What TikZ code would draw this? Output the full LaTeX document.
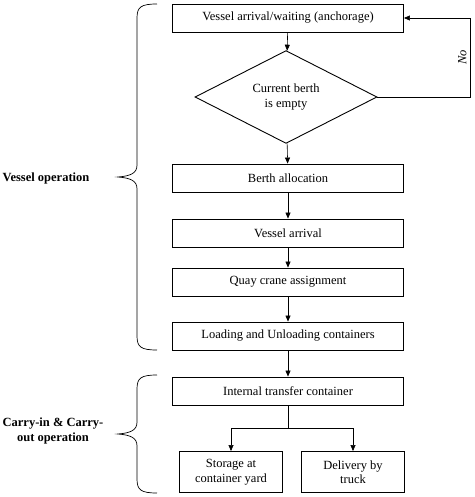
\documentclass[tikz,border=0pt]{standalone}
\usepackage{fontspec}
\setmainfont{Liberation Serif}
\usetikzlibrary{shapes.geometric,arrows.meta}

% curly brace on the left, from top y to bottom y
\newcommand{\groupbrace}[2]{%
    \draw[line width=0.7pt] (157,#1) .. controls (141,#1) and (137,{#1+3}) .. (137,{#1+14})
        -- (137,{(#1+#2)/2-12}) .. controls (137,{(#1+#2)/2-4}) and (131,{(#1+#2)/2-1}) .. (118,{(#1+#2)/2})
        .. controls (131,{(#1+#2)/2+1}) and (137,{(#1+#2)/2+4}) .. (137,{(#1+#2)/2+12})
        -- (137,{#2-14}) .. controls (137,{#2-3}) and (141,#2) .. (157,#2);}

\begin{document}
\begin{tikzpicture}[x=1pt,y=-1pt,
    every node/.style={font=\fontsize{12.5}{14.5}\selectfont},
    box/.style={draw,line width=0.9pt,minimum width=231pt,minimum height=28pt,inner sep=2pt},
    smallbox/.style={draw,line width=0.9pt,minimum width=103pt,minimum height=41pt,align=center,inner sep=2pt},
    decision/.style={draw,diamond,line width=0.9pt,minimum width=182pt,minimum height=89pt,inner sep=0pt,align=center},
    arrow/.style={-{Triangle[length=6pt,width=5pt]},line width=0.6pt},
    grouplabel/.style={font=\fontsize{12.5}{14.5}\selectfont\bfseries,align=center}]
    \useasboundingbox (0,0) rectangle (474,497);

    % --- Vessel operation ---
    \node[box] (arrive) at (288,18) {Vessel arrival/waiting (anchorage)};
    \node[decision] (empty) at (286,97) {Current berth\\is empty};
    \node[box] (alloc) at (288,178) {Berth allocation};
    \node[box] (varr) at (288,233) {Vessel arrival};
    \node[box] (quay) at (288,282) {Quay crane assignment};
    \node[box] (load) at (288,336) {Loading and Unloading containers};

    % --- Carry-in & Carry-out operation ---
    \node[box] (transfer) at (288,391) {Internal transfer container};
    \node[smallbox] (storage) at (231,472) {Storage at\\container yard};
    \node[smallbox] (truck) at (353,472) {Delivery by\\truck};

    % Connectors
    \draw[arrow] (arrive) -- (empty);
    \draw[arrow] (empty) -- (alloc);
    \draw[arrow] (alloc) -- (varr);
    \draw[arrow] (varr) -- (quay);
    \draw[arrow] (quay) -- (load);
    \draw[arrow] (load) -- (transfer);

    % "No" loop back to the anchorage
    \coordinate (loopc) at (470,0);
    \draw[arrow] (empty.east) -- (loopc |- empty.east)
        -- node[above,rotate=90,font=\fontsize{12.5}{14.5}\selectfont\itshape] {No} (loopc |- arrive.east)
        -- (arrive.east);

    % Split to yard and truck
    \coordinate (split) at (288,428);
    \draw[line width=0.6pt] (transfer.south) -- (split);
    \draw[arrow] (split) -| (storage.north);
    \draw[arrow] (split) -| (truck.north);

    % Braces and group labels
    \groupbrace{4}{350}
    \groupbrace{375}{493}
    \node[grouplabel] (vop) at (46,178) {Vessel operation};
    \node[grouplabel] (cop) at (53,431) {Carry-in \& Carry-\\out operation};
\end{tikzpicture}
\end{document}
